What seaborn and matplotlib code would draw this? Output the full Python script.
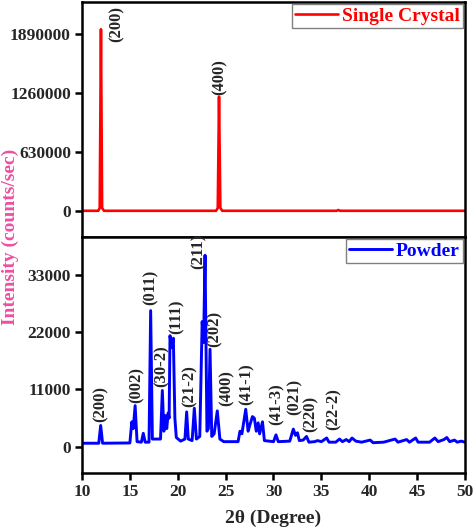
import numpy as np
import pandas as pd
import matplotlib
matplotlib.use("Agg")
import matplotlib.pyplot as plt
import seaborn as sns

# single crystal pattern (2theta, counts/sec)
sc_2theta = [10.0, 11.7, 11.85, 11.98, 12.1, 12.3, 24.0, 24.18, 24.31, 24.45, 24.65, 36.6, 36.77, 36.95, 50.0]
sc_counts = [0, 0, 30000, 1940000, 30000, 0, 0, 30000, 1220000, 30000, 0, 0, 8000, 0, 0]

# powder pattern, points
pw_2theta = [10.0, 11.75, 11.95, 12.15, 15.0, 15.2, 15.35, 15.55, 15.75, 16.2, 16.4, 16.6,
             17.0, 17.17, 17.35, 18.2, 18.39, 18.55, 18.72, 18.85, 19.0, 19.1, 19.19, 19.35,
             19.54, 19.7, 19.85, 20.3, 20.75, 20.93, 21.1, 21.5, 21.73, 21.95, 22.3, 22.55,
             22.7, 22.85, 23.05, 23.2, 23.37, 23.55, 23.8, 24.13, 24.4, 24.8, 26.3, 26.5,
             26.7, 27.1, 27.35, 27.5, 27.8, 28.0, 28.2, 28.4, 28.55, 28.85, 29.05, 30.0,
             30.26, 30.5, 31.7, 32.07, 32.3, 32.5, 32.7, 33.1, 33.45, 33.7, 34.3, 34.6,
             35.0, 35.55, 35.8, 36.5, 36.9, 37.2, 37.6, 37.9, 38.2, 38.6, 39.2, 40.1,
             40.4, 41.5, 42.7, 43.0, 43.9, 44.2, 44.85, 45.1, 46.3, 46.85, 47.2, 47.8,
             48.1, 48.4, 48.9, 49.2, 49.6, 50.0]
pw_counts = [700, 700, 4100, 700, 750, 4800, 3500, 7900, 1000, 900, 2600, 900,
             900, 26100, 1500, 1500, 10800, 3000, 6000, 3500, 6500, 5500, 21300, 19000,
             20800, 5500, 1800, 1100, 1500, 6700, 1500, 1200, 7400, 1500, 2000, 24000,
             20000, 36700, 3000, 3500, 18700, 2000, 2500, 6900, 1500, 1000, 1000, 3000,
             2500, 7200, 3000, 4000, 5800, 5500, 3000, 4600, 2500, 4800, 1200, 1000,
             2300, 1000, 1100, 3400, 2200, 2700, 1200, 1300, 2000, 900, 1000, 1200,
             1000, 1700, 900, 900, 1500, 1000, 1400, 1000, 1700, 1100, 900, 1300,
             800, 900, 1500, 900, 1400, 900, 1700, 900, 900, 1700, 1000, 1400,
             1800, 1000, 1300, 900, 1100, 900]

# peak labels (miller indices) and where their text sits
sc_hkl = ["(200)", "(400)"]
sc_hkl_x = [13.62, 24.41]
sc_hkl_y = [1808000, 1239000]

pw_hkl = ["(200)", "(002)", "(011)", "(30-2)", "(111)", "(21-2)", "(211)", "(202)",
          "(400)", "(41-1)", "(41-3)", "(021)", "(220)", "(22-2)"]
pw_hkl_x = [11.95, 15.7, 17.17, 18.32, 19.9, 21.28, 22.2, 23.9, 25.1, 27.2, 30.33, 32.25, 33.9, 36.3]
pw_hkl_y = [4800, 8400, 27200, 11500, 21700, 7700, 34000, 19200, 7900, 8000, 4200, 6100, 2900, 3250]

sc_ticks = [0, 630000, 1260000, 1890000]
pw_ticks = [0, 11000, 22000, 33000]
x_ticks = [10, 15, 20, 25, 30, 35, 40, 45, 50]

sc = pd.DataFrame({"two_theta": sc_2theta, "counts": sc_counts})
pw = pd.DataFrame({"two_theta": pw_2theta, "counts": pw_counts})

sns.set_style("ticks")
# font 要在 set_style 之後設定
plt.rcParams["font.family"] = ["Liberation Serif", "DejaVu Serif"]
plt.rcParams["font.weight"] = "bold"

fig = plt.figure(figsize=(4.74, 5.27), dpi=100)
ax1 = fig.add_axes([0.173, 0.5503, 0.808, 0.4457])
ax2 = fig.add_axes([0.173, 0.1025, 0.808, 0.4478])

sns.lineplot(data=sc, x="two_theta", y="counts", ax=ax1, color="red", linewidth=1.9, label="Single Crystal")
sns.lineplot(data=pw, x="two_theta", y="counts", ax=ax2, color="blue", linewidth=2.1, label="Powder")

ax1.set_ylim(-280000, 2230000)
ax2.set_ylim(-5000, 40200)
for ax in (ax1, ax2):
    ax.set_xlim(10, 50)
    ax.set_xlabel("")
    ax.set_ylabel("")
    for s in ax.spines.values():
        s.set_linewidth(1.8)
        s.set_color("black")
    ax.tick_params(axis="both", width=1.8, length=5, labelsize=12.5, color="black", pad=3)

ax1.set_yticks(sc_ticks)
ax1.set_yticklabels([str(t) for t in sc_ticks], fontweight="bold")
ax1.set_xticks([])
ax2.set_yticks(pw_ticks)
ax2.set_yticklabels([str(t) for t in pw_ticks], fontweight="bold")
ax2.set_xticks(x_ticks)
ax2.set_xticklabels([str(t) for t in x_ticks], fontweight="bold")

# 峰的標籤，轉 90 度
for t, x, y in zip(sc_hkl, sc_hkl_x, sc_hkl_y):
    ax1.text(x, y, t, rotation=90, ha="center", va="bottom", fontsize=12, fontweight="bold")
for t, x, y in zip(pw_hkl, pw_hkl_x, pw_hkl_y):
    ax2.text(x, y, t, rotation=90, ha="center", va="bottom", fontsize=12, fontweight="bold")

# legends, square gray frame, text same color as line
for ax, c in ((ax1, "red"), (ax2, "blue")):
    leg = ax.legend(loc="upper right", fontsize=14, frameon=True, fancybox=False,
                    edgecolor="gray", framealpha=1, borderaxespad=0.12,
                    handlelength=2.2, handletextpad=0.2, borderpad=0.15)
    leg.get_frame().set_linewidth(1.0)
    for txt in leg.get_texts():
        txt.set_color(c)
        txt.set_fontweight("bold")

fig.text(0.022, 0.55, "Intensity (counts/sec)", rotation=90, ha="center", va="center",
         color="#ee4fa0", fontsize=14, fontweight="bold")
ax2.set_xlabel("2θ (Degree)", fontsize=14, fontweight="bold", labelpad=7)

fig.savefig("out.png", dpi=100)
